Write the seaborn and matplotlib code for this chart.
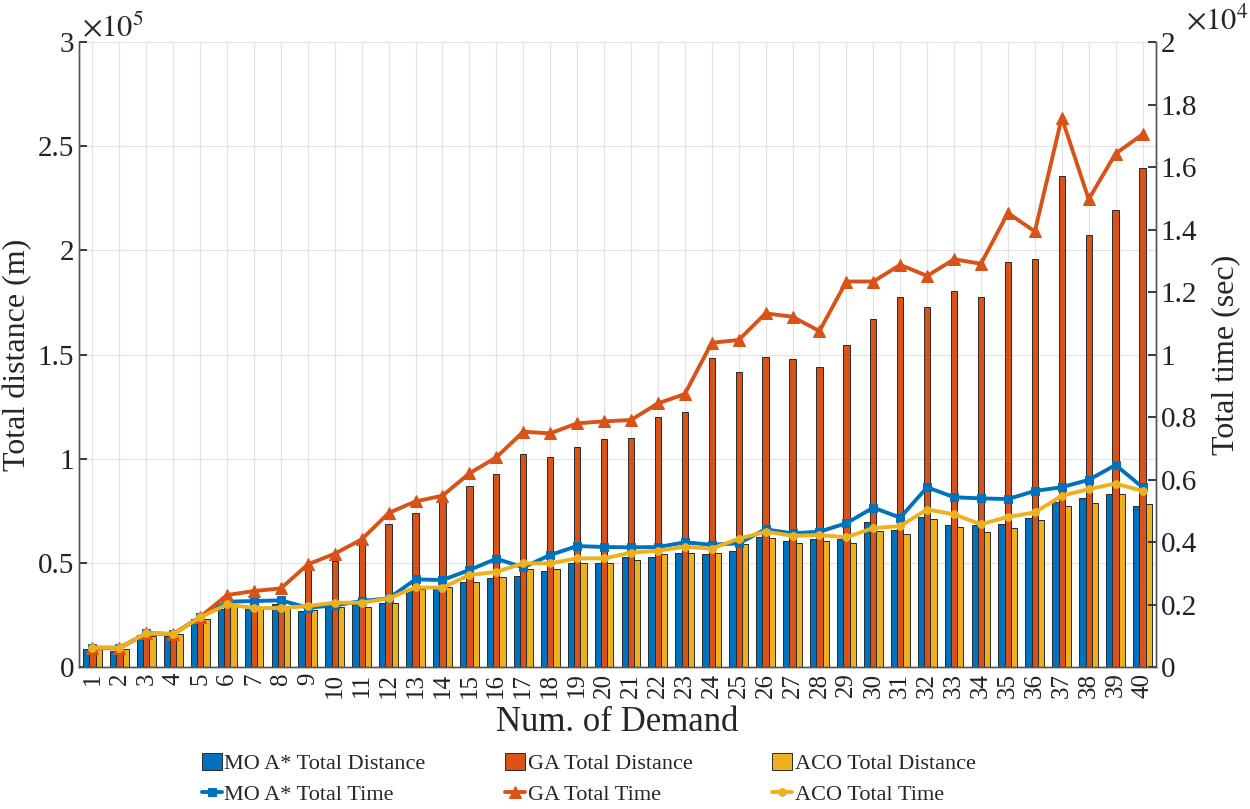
import numpy as np
import pandas as pd
import matplotlib
matplotlib.use("Agg")
import matplotlib.pyplot as plt
import seaborn as sns
from matplotlib.ticker import FuncFormatter

# Dados
demanda = list(range(1, 41))

mo_dist = [8480, 7840, 15360, 14880, 23200, 28000, 28000, 30240, 27040, 28960,
           30240, 30560, 36960, 37280, 40960, 42880, 43830, 45940, 50070, 50070,
           52660, 52660, 54580, 54260, 55690, 62560, 60490, 61450, 61390, 69750,
           65800, 72060, 67970, 67970, 68500, 71700, 79180, 80960, 83270, 77400]
ga_dist = [7840, 7360, 14560, 14880, 23520, 31000, 32500, 33000, 46560, 50880,
           60480, 68800, 73760, 79360, 86880, 92700, 102250, 100670, 105620, 109460,
           109940, 119870, 122420, 148200, 141470, 148970, 148000, 143880, 154450, 166900,
           177400, 172950, 180600, 177760, 194660, 195900, 235940, 207300, 219400, 239700]
aco_dist = [8480, 8480, 14880, 15680, 23200, 29600, 28000, 28320, 27360, 28960,
            28640, 30560, 37280, 38240, 40960, 43350, 46900, 46900, 50070, 50070,
            51370, 54100, 54580, 54900, 58900, 61760, 59370, 60650, 59600, 65480,
            64060, 70820, 67260, 64590, 66730, 70640, 77400, 78830, 83270, 78290]

mo_time = [618, 618, 1077, 1056, 1589, 2091, 2112, 2133, 1899, 1973,
           2112, 2197, 2805, 2784, 3104, 3465, 3190, 3584, 3872, 3840,
           3830, 3840, 3990, 3914, 3958, 4406, 4278, 4330, 4602, 5101,
           4780, 5753, 5433, 5397, 5374, 5635, 5753, 5990, 6465, 5753]
ga_time = [600, 600, 1077, 1056, 1600, 2304, 2432, 2517, 3285, 3627,
           4085, 4928, 5301, 5483, 6197, 6710, 7530, 7478, 7798, 7862,
           7904, 8438, 8736, 10378, 10464, 11318, 11210, 10752, 12337, 12337,
           12871, 12515, 13049, 12906, 14531, 13938, 17580, 14970, 16430, 17046]
aco_time = [618, 618, 1077, 1056, 1589, 2005, 1888, 1888, 1952, 2058,
            2058, 2197, 2549, 2539, 2944, 3045, 3318, 3318, 3478, 3478,
            3658, 3722, 3850, 3786, 4106, 4330, 4202, 4224, 4152, 4448,
            4508, 5041, 4887, 4567, 4804, 4947, 5480, 5694, 5872, 5635]

nomes_dist = ["MO A* Total Distance", "GA Total Distance", "ACO Total Distance"]
nomes_tempo = ["MO A* Total Time", "GA Total Time", "ACO Total Time"]
cores = ["#0072BD", "#D95319", "#EDB120"]
marcadores = ["s", "^", "o"]

sns.set_theme(style="white")
plt.rcParams["font.family"] = ["Liberation Serif", "DejaVu Serif"]
plt.rcParams["mathtext.fontset"] = "stix"

# Tabela longa para o barplot
df = pd.DataFrame({
    "demanda": demanda * 3,
    "dist": mo_dist + ga_dist + aco_dist,
    "algo": [nomes_dist[0]] * 40 + [nomes_dist[1]] * 40 + [nomes_dist[2]] * 40,
})

fig = plt.figure(figsize=(12.5, 8.09), dpi=100)
ax = fig.add_axes([0.0632, 0.1755, 0.8616, 0.7725])

sns.barplot(data=df, x="demanda", y="dist", hue="algo", hue_order=nomes_dist,
            palette=cores, width=0.7, gap=0, edgecolor="#2a2a2a", linewidth=0.7,
            saturation=1, ax=ax, zorder=2)

ax2 = ax.twinx()
pos = np.arange(40)
for serie, nome, cor, mk in zip([mo_time, ga_time, aco_time], nomes_tempo, cores, marcadores):
    ms = 8 if mk == "^" else 5.5
    sns.lineplot(x=pos, y=serie, color=cor, marker=mk, markersize=ms,
                 markeredgecolor=cor, linewidth=2.8, label=nome, ax=ax2)

ax.set_xlim(-0.5, 39.5)
ax.set_ylim(0, 3e5)
ax2.set_ylim(0, 2e4)

ax.set_yticks(np.arange(0, 3.01e5, 0.5e5))
ax2.set_yticks(np.arange(0, 2.01e4, 0.2e4))
ax.yaxis.set_major_formatter(FuncFormatter(lambda v, _: f"{v / 1e5:g}"))
ax2.yaxis.set_major_formatter(FuncFormatter(lambda v, _: f"{v / 1e4:g}"))

ax.set_xticks(pos)
ax.set_xticklabels([str(d) for d in demanda], rotation=90, fontsize=18)
ax.tick_params(axis="y", direction="in", length=6, labelsize=21, colors="#222222")
ax.tick_params(axis="x", direction="in", length=0, pad=4, colors="#222222")
ax2.tick_params(axis="y", direction="in", length=6, labelsize=21, colors="#222222")

# grade
ax.grid(True, axis="both", color="#e3e3e3", linewidth=0.9)
ax.set_axisbelow(True)

for a in (ax, ax2):
    a.spines["top"].set_visible(False)
    for s in ("left", "right", "bottom"):
        a.spines[s].set_color("#555555")
        a.spines[s].set_linewidth(1.0)

ax.set_xlabel("Num. of Demand", fontsize=25, labelpad=6)
ax.set_ylabel("Total distance (m)", fontsize=23, labelpad=4)
ax2.set_ylabel("Total time (sec)", fontsize=23, labelpad=10)

ax.text(0.003, 0.997, r"$\times10^5$", transform=ax.transAxes, ha="left", va="bottom", fontsize=22)
ax2.text(1.028, 1.008, r"$\times10^4$", transform=ax.transAxes, ha="left", va="bottom", fontsize=22)

# legenda combinada
h1, l1 = ax.get_legend_handles_labels()
h2, l2 = ax2.get_legend_handles_labels()
if ax.get_legend():
    ax.get_legend().remove()
if ax2.get_legend():
    ax2.get_legend().remove()
handles = [h1[0], h2[0], h1[1], h2[1], h1[2], h2[2]]
labels = [l1[0], l2[0], l1[1], l2[1], l1[2], l2[2]]
fig.legend(handles, labels, loc="lower center", bbox_to_anchor=(0.471, -0.02), ncol=3,
           frameon=False, fontsize=16, handlelength=0.9, handleheight=0.8,
           handletextpad=0.1, columnspacing=3.6, labelspacing=0.45)

fig.savefig("out.png", dpi=100)
